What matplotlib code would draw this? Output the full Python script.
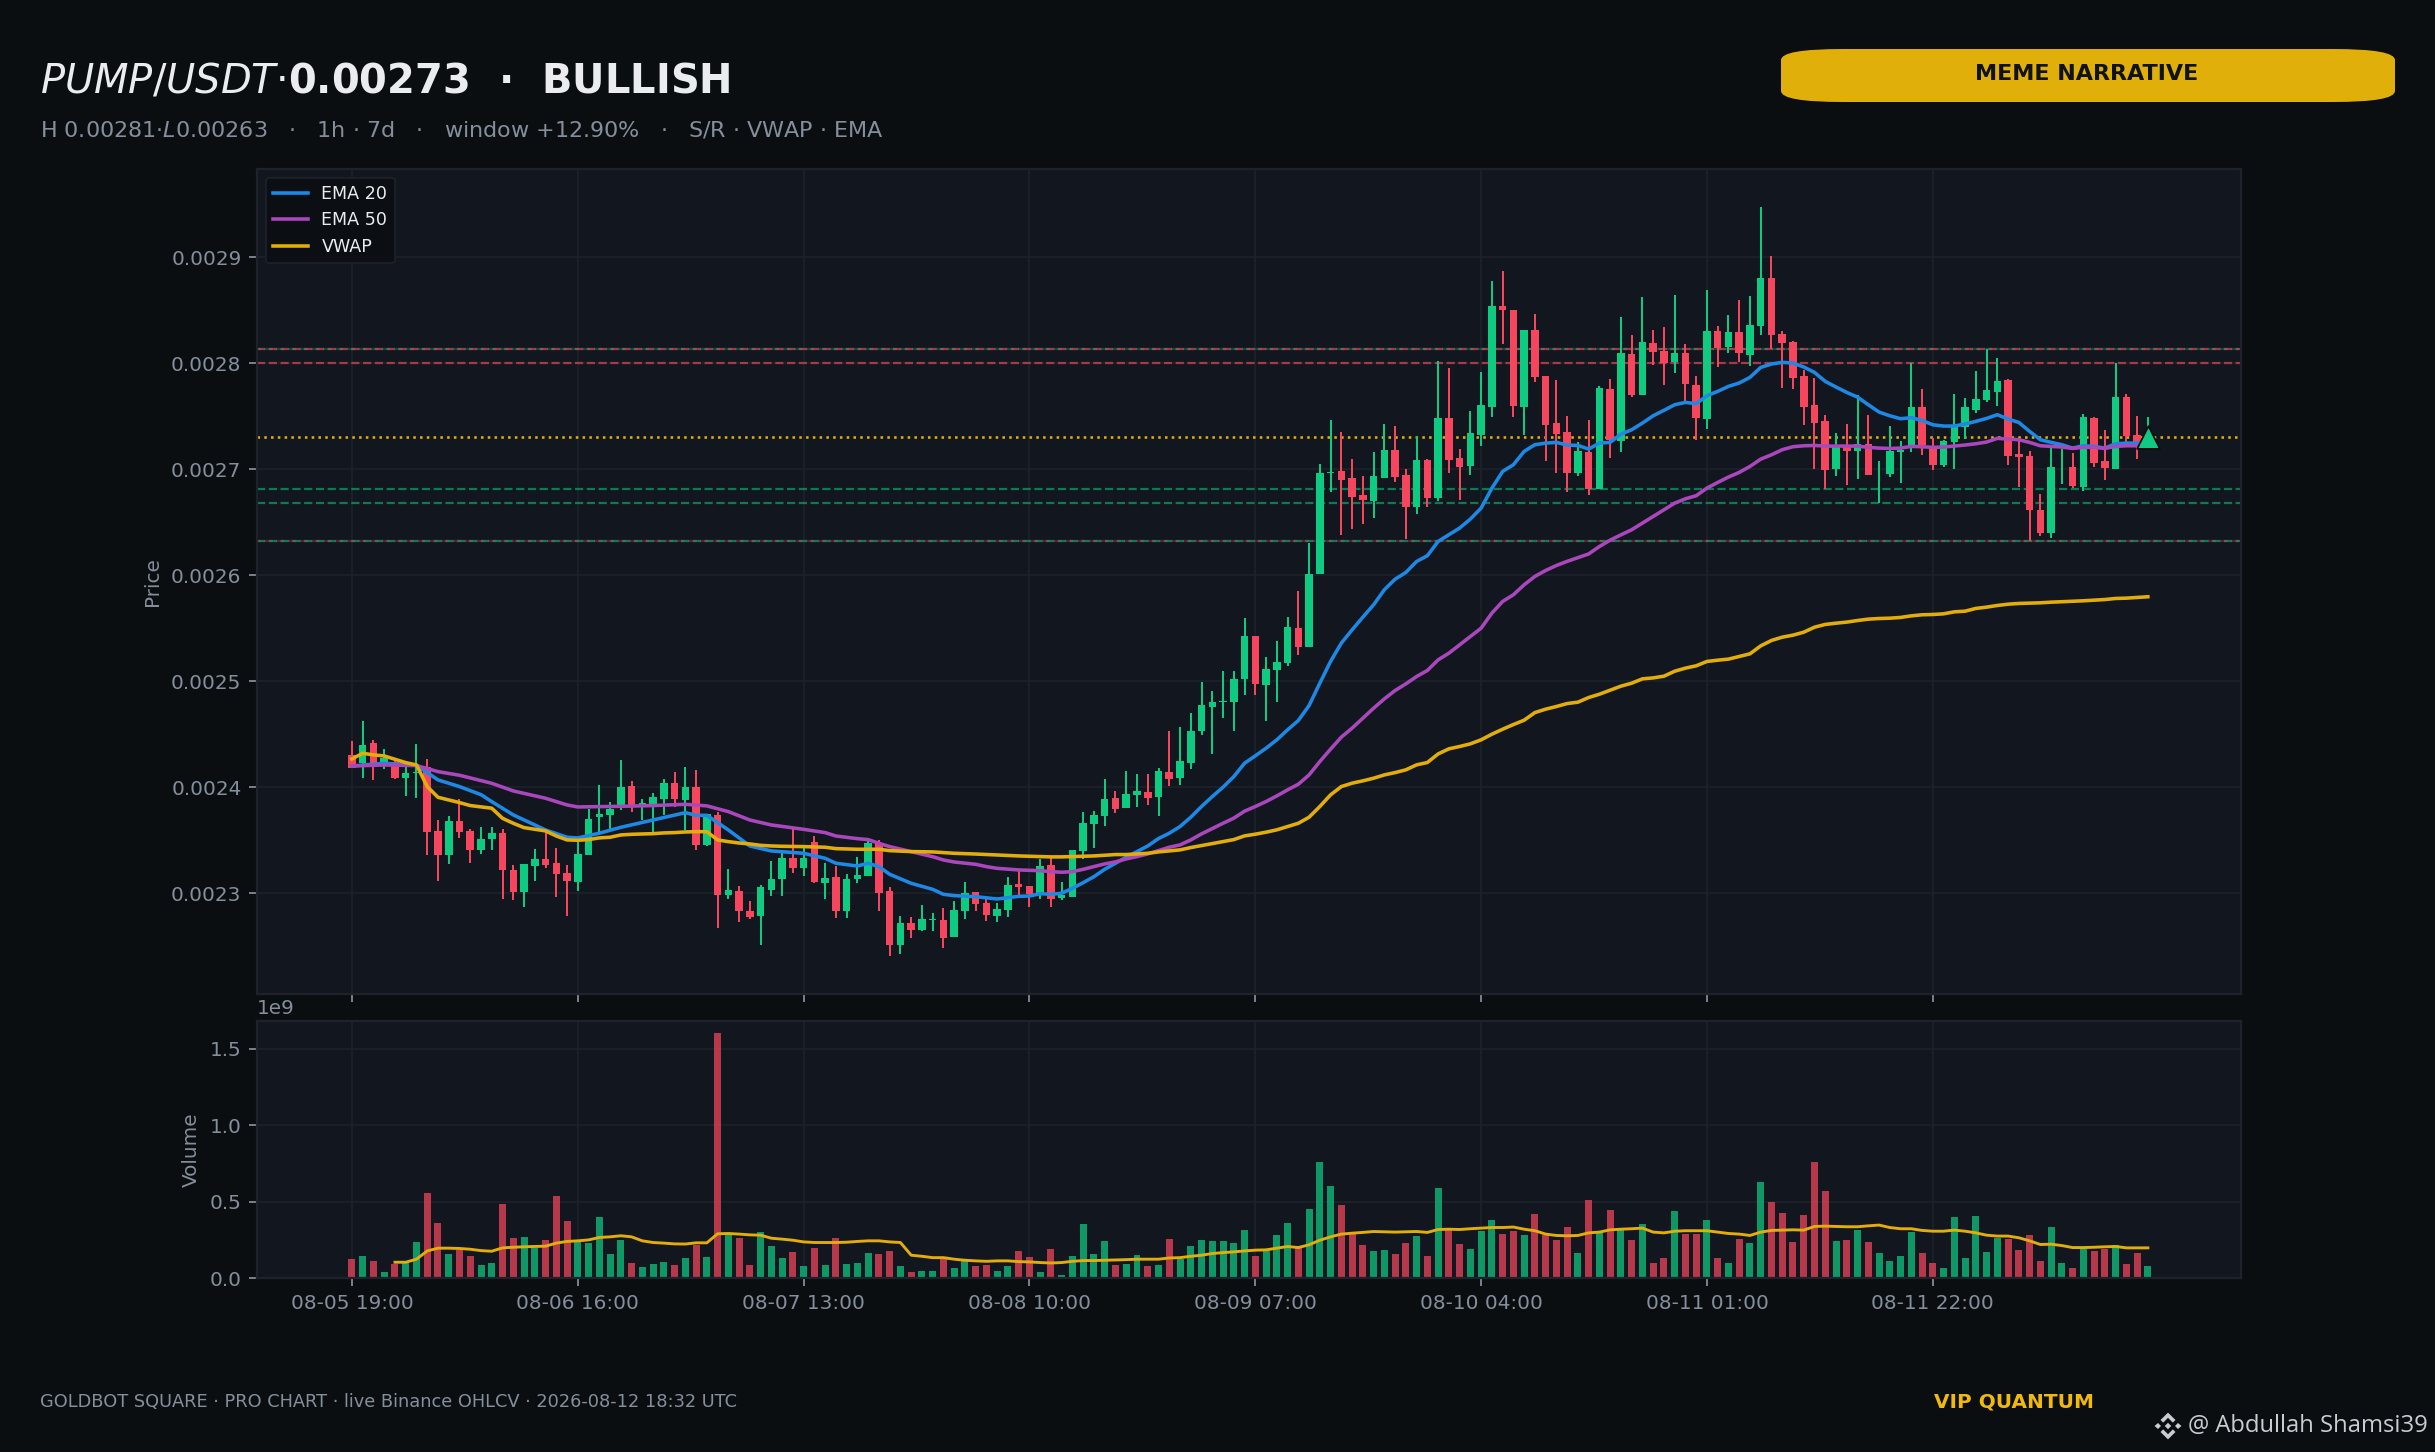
import matplotlib
matplotlib.use("Agg")
import matplotlib.pyplot as plt
from matplotlib.patches import Polygon, PathPatch
from matplotlib.path import Path
from matplotlib.ticker import ScalarFormatter
import numpy as np

W, H, DPI = 2435, 1452, 160

# ---- data (prices in millionths of USDT, volume in 1e9) ----
opens = [2430.5,2422.6,2441.8,2422.6,2424.2,2408.8,2413.5,2419.5,2358.8,2336.1,
2368.2,2358.8,2340.8,2351.2,2356.9,2322,2301.2,2325.7,2332.3,2328.6,
2319.1,2310.6,2336.1,2372,2373.9,2383,2401.2,2382.3,2383.3,2389,
2404.1,2388,2400.3,2345.6,2373.9,2298.4,2302.2,2283.3,2278.6,2303.1,
2313.5,2333.3,2323.9,2348.4,2309.7,2315.4,2283.3,2313.5,2316.3,2347.4,
2302.2,2251.2,2272,2265.4,2275.1,2274.8,2258.8,2283.3,2301.2,2290.8,
2278.6,2284.2,2308.8,2306.9,2299.3,2326.7,2295.6,2296.5,2340,2365.4,
2373,2389.9,2380.5,2392.8,2395.6,2390.9,2414.5,2408.8,2423,2453.2,
2475.8,2479.9,2480.5,2502.2,2542.8,2496.6,2510.7,2517.3,2550.3,2532.4,
2601.3,2695.9,2698.1,2691.5,2675.5,2669.8,2691.5,2717.9,2694.3,2664.1,
2708.5,2673,2748.5,2710.7,2703.2,2732.4,2758.8,2854.1,2850.3,2758.8,
2831.5,2788.1,2743.7,2735.2,2696.6,2716.4,2681.5,2775.8,2726.7,2808.8,
2770.1,2819.2,2811.7,2801.3,2809.8,2779.6,2747.5,2830.5,2815.4,2829.6,
2807.9,2835.2,2880.5,2827.7,2820.2,2788.1,2760.7,2745.6,2700.3,2721.4,
2717.3,2723.9,2695.9,2695.6,2716.4,2721.1,2758.8,2722,2704.1,2725.8,
2740,2756,2765.4,2773,2784.3,2714.5,2712.6,2661.6,2640,2702.5,
2702.2,2683.3,2748.5,2707.9,2700.3,2768.3,2732.4,2724.5]

closes = [2417.9,2439.9,2422.6,2428,2408.8,2413.5,2414.1,2357.8,2336.1,2368.2,
2357.8,2340.8,2351.2,2356.9,2322,2301.2,2327.6,2332.3,2326.7,2318.2,
2311.6,2337.1,2370.1,2374.8,2379.5,2400.3,2383,2385.2,2390.8,2404.1,
2389,2400.3,2345.6,2374.8,2298.4,2303.1,2283.3,2277.6,2305.9,2313.5,
2333.3,2323.9,2333.3,2310.6,2314.4,2283.3,2313.5,2317.2,2347.4,2300.3,
2251.2,2272,2265.4,2275.7,2275.7,2257.8,2284.2,2300.3,2289.9,2279.5,
2285.2,2307.8,2305.9,2299.3,2325.7,2294.6,2298.1,2340.9,2366.3,2373.9,
2389,2379.6,2393.7,2396.5,2389.9,2415.4,2407.9,2424.9,2453.2,2477.7,
2480.5,2481.1,2502.2,2542.8,2497.5,2511.6,2518.3,2551.3,2532.4,2601.3,
2696.2,2697.2,2689.6,2673.6,2670.8,2693.4,2717.9,2692.5,2664.1,2708.5,
2672.6,2748.5,2708.8,2702.2,2734.3,2760.7,2854.1,2850.3,2759.8,2831.5,
2787.1,2741.8,2733.4,2696.6,2717.3,2681.5,2776.8,2727.7,2809.8,2770.1,
2820.2,2810.7,2800.3,2809.8,2780.5,2748.5,2830.5,2814.5,2829.6,2809.8,
2836.2,2880.5,2826.8,2819.2,2786.2,2758.8,2743.7,2699.4,2722,2717.3,
2723.9,2694.7,2696.6,2717.3,2718.3,2758.8,2723,2704.1,2726.7,2741.8,
2758.8,2766.4,2774.9,2783.4,2712.6,2711.6,2661.6,2639.6,2702.2,2703.2,
2684.3,2749.4,2706,2701.3,2768.3,2731.5,2723,2730]

highs = [2443.7,2462.5,2444.6,2436.1,2425.8,2419.5,2440.8,2426.7,2369.1,2372.9,
2388.6,2360.6,2362.2,2362.2,2360.6,2326.7,2327.6,2341.8,2358.8,2342.7,
2326.7,2350.3,2379.5,2402.2,2385.8,2425.8,2405.9,2389,2394.3,2407.8,
2414.4,2419.1,2416.3,2374.8,2377,2322.9,2306.9,2292.7,2307.8,2330.5,
2337.7,2360.6,2342.7,2354,2328.6,2325.7,2318.2,2334.2,2349.3,2350.3,
2305.9,2278.6,2277.6,2289,2281.4,2286.1,2292.7,2310.6,2301.2,2295.2,
2290.8,2315.4,2321,2306.9,2332.3,2333.3,2310.7,2340.9,2376.7,2377.7,
2407.9,2396.5,2415.4,2412.6,2412.6,2418.2,2453.2,2456.9,2470.1,2499.4,
2490.9,2509.8,2509.8,2559.8,2542.8,2523,2538.1,2560.7,2585.2,2630.5,
2704.7,2746.2,2734.9,2709.4,2693.4,2716,2742.5,2740.6,2700,2730.2,
2709.4,2802.2,2795.6,2719.2,2755,2791.8,2877.7,2887.1,2850.3,2831.5,
2846.6,2788.1,2784.3,2750.3,2725.8,2746.6,2778.6,2785.2,2843.7,2826.8,
2862.6,2831.5,2834.3,2864.5,2818.3,2788.1,2869.2,2835.2,2845.6,2859.8,
2863.6,2947.5,2901.3,2830.5,2821.1,2793.7,2786.2,2751.3,2734.3,2742.8,
2770.1,2751.3,2707.9,2740.9,2726.7,2800.3,2775.8,2729.6,2727.7,2771.1,
2767.3,2792.8,2813.5,2805.1,2785.2,2727.7,2717.3,2676.7,2721.4,2719.2,
2715.4,2752.2,2749.4,2737.1,2800.3,2771.1,2750.3,2749.4]

lows = [2417.9,2409.1,2406.9,2417.6,2407.8,2391.8,2390.2,2336.1,2311.6,2327.6,
2352.2,2328.6,2337.1,2340.8,2294.6,2293.7,2287.1,2311.6,2323.9,2296.5,
2278.6,2302.2,2336.1,2356.6,2359.7,2378.6,2376.7,2369.1,2356.9,2373.9,
2381.7,2359.7,2340.8,2344.6,2267.2,2294.6,2272.9,2275.7,2251.2,2297.4,
2297.4,2319.1,2316.3,2309.7,2294.6,2276.7,2276.7,2309.7,2316.3,2283.3,
2240.8,2242.7,2257.8,2264.4,2264.4,2248.4,2258.8,2275.7,2283.3,2273.9,
2272.9,2277.6,2298.4,2287.1,2294.6,2287.1,2293.7,2296.5,2332.4,2342.8,
2363.5,2375.8,2380.5,2381.4,2383.3,2373,2401.3,2402.2,2417.3,2449.4,
2431.4,2465.4,2453.2,2487.1,2487.1,2462.6,2480.5,2514.5,2524.9,2532.4,
2601.3,2678.6,2637.7,2643.4,2648.1,2653.8,2691.5,2687.7,2634,2657.5,
2664.1,2670,2696.6,2671.1,2694.7,2722,2749.4,2818.3,2749.4,2732.4,
2782.4,2707.9,2696.6,2678.6,2693.7,2675.8,2681.5,2710.7,2716.4,2768.3,
2770.1,2798.5,2779.6,2790.9,2763.5,2727.7,2738,2796.6,2809.8,2801.3,
2797.5,2826.8,2813.5,2776.8,2775.8,2741.8,2700.3,2681.5,2693.7,2685.2,
2690.9,2694.7,2668.2,2692.8,2687.1,2716.4,2713.5,2699.4,2702.2,2700.3,
2728.6,2753.2,2763.5,2759.8,2704.1,2683.3,2632.5,2637.1,2635.2,2686.2,
2682.4,2679.6,2702.2,2690,2700.3,2725.8,2709.8,2722]

volumes = [.124,.145,.111,.039,.092,.098,.237,.558,.361,.158,
.184,.145,.085,.098,.486,.263,.269,.197,.25,.538,
.374,.243,.23,.4,.158,.25,.098,.072,.092,.105,
.085,.131,.216,.138,1.6,.296,.259,.086,.298,.212,
.132,.173,.08,.199,.086,.263,.092,.098,.164,.158,
.177,.079,.039,.046,.046,.125,.066,.112,.079,.085,
.046,.079,.177,.138,.039,.19,.02,.144,.354,.158,
.243,.085,.092,.151,.079,.085,.256,.125,.21,
.249,.243,.243,.23,.315,.144,.177,.282,.361,.199,
.453,.761,.604,.479,.287,.217,.177,.184,.158,.23,
.276,.144,.591,.315,.223,.19,.309,.381,.289,.309,
.282,.42,.282,.249,.335,.164,.512,.295,.446,.315,
.249,.354,.098,.131,.44,.289,.289,.381,.131,.098,
.256,.23,.63,.499,.427,.236,.414,.761,.571,.243,
.249,.315,.236,.164,.112,.144,.302,.164,.098,.066,
.4,.131,.407,.171,.263,.256,.184,.282,.112,.335,
.098,.066,.19,.177,.19,.217,.092,.164,.079]

ema20_x = [0,3,6,8,10,12,13,15,18,20,21,23,25,28,31,32,33,35,37,39,42,44,45,47,48,49,50,52,54,55,56,58,60,62,63,64,65]+list(range(66,168))
ema20 = [2420,2422.6,2420.7,2406.9,2400.6,2393,2386.4,2373.9,2359.7,2352.8,2352.2,2356.6,2362.2,2369.1,2376,2373.5,2373.5,2359.7,2344.6,2339.9,2337.7,2333,2328.3,2325.7,2328.3,2325.1,2317.9,2309.4,2303.7,2299,2297.8,2296.8,2294.6,2297.1,2297.4,2299.6,2299,
2300,2304.7,2310,2315.7,2322.6,2328.3,2334,2339.3,2344.6,2351.6,2356.6,2362.9,2371.7,2381.8,2391.2,2400,2410,2422.6,2429.6,2436.8,2444.7,2454.1,2462.9,2477,2498.1,2518.6,2535.9,2548.4,2560.4,2572,2586.2,2596.2,2602.5,2612.9,2618.3,2631.8,2638.1,2644.4,2652.9,2663.2,
2682,2697.8,2704.1,2716.7,2723,2724.5,2725.2,2722.7,2722.3,2718.9,2724.5,2725.2,2733,2737.1,2743.4,2750.3,2755.4,2760.7,2762.9,2761.7,2769.2,2773.3,2778,2781.2,2786.5,2795.9,2799.1,
2800.7,2800,2796.3,2791.2,2782.7,2777.4,2772.3,2767.9,2760.7,2753.8,2750.3,2747.5,2748.5,2745.9,2741.8,2740.6,2740.6,2742.5,2745,2747.8,2751.3,2747.2,2744,2735.6,2727.7,2725.2,2723,2719.8,2722,2721.4,2719.8,2723.9,2724.5,2724.5,2725]

ema50_x = [0,3,6,8,10,12,13,15,18,20,21,25,28,31,33,35,37,39,42,44,45,47,48,49,50,52,54,55,56,58,59,60,62,64,65]+list(range(66,168))
ema50 = [2420,2421,2420.4,2414.7,2411.3,2406.2,2403.7,2396.5,2389.6,2383.3,2381.4,2382,2382.7,2383.9,2382.4,2377,2369.1,2364.4,2360.3,2357.2,2354,2351.5,2350.6,2347.1,2344,2339.3,2334.5,2331.4,2329.5,2327.3,2325.1,2323.5,2322,2321.3,2320.4,
2319.8,2320.4,2322.6,2325.1,2327.7,2329.6,2332.4,2334.6,2337.1,2340.2,2343.4,2345.6,2350.3,2356,2361,2366,2370.8,2377.4,2381.8,2386.5,2391.8,2397.5,2402.8,2411.6,2424.2,2435.9,2447.2,2455.7,2465.1,2474.5,2483.3,2491.2,2497.5,2504.4,2510.1,2520.1,2526.4,2534.3,2542.2,2550,2564.2,2575.2,2581.5,2590.9,2598.8,2604.4,2609.1,
2613,2616.5,2620,2627,2633,2638,2642.8,2649.1,2655.4,2661.7,2667.9,2672,2674.9,2682.1,2687.4,2692.5,2696.9,2702.5,2709.4,2713.5,
2718.3,2721.1,2722,2722.3,2721.7,2721.7,2721.7,2721.7,2720.5,2719.8,2719.5,2719.8,2721.4,2721.1,2720.5,2720.8,2721.7,2722.7,2723.9,2725.5,2729,2728.3,2727.7,2725.2,2722,2721.4,2720.8,2719.5,2720.5,2720.5,2719.5,2721.4,2722,2722,2722]

vwap_x = list(range(0,41))+[42,44,45,47,49,50,52,54,56,58,60,62,65]+list(range(66,168))
vwap = [2426.7,2432,2430.5,2429.5,2426.4,2423.2,2421,2400.6,2390.5,2388,2385.5,2382.7,2381.4,2380.2,2370.7,2366,2361.9,2360.3,2358.8,2354,2350.3,2350,2350.6,2352.2,2352.8,2355,2355.6,2355.9,2356.2,2356.9,2357.2,2357.8,2358.1,2358.1,2350.3,2348.7,2347.4,2346.5,2345.2,2344.6,2344.3,
2344,2343.4,2342.1,2341.5,2341.5,2340.2,2339.3,2339,2337.7,2337,2336.1,2335.2,2334.3,
2334.3,2334.6,2334.9,2335.2,2335.8,2336.5,2336.5,2337.1,2337.7,2339,2340,2340.9,2343.1,2345,2346.9,2348.7,2350.6,2354.1,2355.7,2357.6,2359.8,2362.9,2366,2371.7,2381.8,2392.8,2400.6,2403.8,2406,2408.5,2411.6,2413.8,2416.4,2421.1,2423.3,2431.4,2436.2,2438.4,2440.9,2444.7,2450,
2454.7,2459.1,2463.2,2470.4,2473.6,2476.1,2478.9,2480.2,2484.6,2487.7,2491.5,2495.3,2498.1,2502.2,2503.1,2504.7,2509.4,2512.3,2514.5,2518.6,2519.8,2520.8,2523.3,2525.8,2533.3,2538.4,2541.5,2543.4,2546.2,2550.9,2553.5,2554.7,2555.7,2557.2,2558.5,2559.1,2559.4,2560.1,2561.6,2562.6,2562.9,2563.5,2565.4,2566,2568.6,2569.8,2571.4,2572.6,2573.3,2573.6,2573.9,2574.5,2574.9,2575.2,2575.8,2576.4,2577,2578,2578.3,2578.9,2579.6]

vol_ma_x = list(range(4,168))
vol_ma = [.103,.103,.123,.177,.195,.195,.193,.188,.179,.175,.197,.201,.204,.206,.208,.228,.239,.243,.249,.265,.269,.276,.269,.243,.232,.228,.223,.222,.23,.23,.289,.291,.287,.282,.28,.26,.254,.247,.236,.232,.232,.232,.234,.239,.243,.243,.236,.232,.149,.142,.133,.133,.123,.116,.112,.109,.112,.112,.107,.105,.101,.098,.101,.109,.114,.114,.116,.118,.12,.123,.123,.123,.131,.133,.142,
.149,.16,.166,.171,.177,.182,.184,.195,.206,.199,.217,.247,.269,.287,.293,.298,.304,.302,.3,.302,.304,.298,.317,.319,.317,.322,.326,.33,.33,.333,.319,.309,.287,.278,.276,.278,.295,.3,.315,.319,.322,.326,.3,.295,.306,.309,.309,.309,.3,.291,.287,.278,.3,.311,.313,.315,.313,.337,.339,.337,.335,.335,.341,.346,.33,.322,.322,.311,.306,.306,.313,.306,.295,.28,.274,.274,.263,.243,.219,.221,.212,.199,.199,.201,.204,.206,.197,.197,.197]

resistance = [2800.3, 2813.5]
support = [2681.5, 2668.4, 2632.5]
pivot = 2730.0
last_price = 2730.0
tick_pos = [0, 21, 42, 63, 84, 105, 126, 147]
tick_labels = ["08-05 19:00","08-06 16:00","08-07 13:00","08-08 10:00","08-09 07:00","08-10 04:00","08-11 01:00","08-11 22:00"]
price_ticks = [2300, 2400, 2500, 2600, 2700, 2800, 2900]
vol_ticks = [0, 0.5, 1.0, 1.5]

# ---- styles ----
BG = "#0b0e11"; PANEL = "#12161e"; GRID = "#1e222a"; TXT = "#848e9c"
UP = "#0ecb81"; DOWN = "#f6465d"; GOLD = "#e3ae0c"
BLUE = "#1e88e5"; PURPLE = "#ab47bc"
SC = 1e-6

plt.rcParams["font.family"] = ["DejaVu Sans"]
fig = plt.figure(figsize=(W/DPI, H/DPI), dpi=DPI, facecolor=BG)

def ax_rect(l, t, r, b):
    return [l/W, 1-b/H, (r-l)/W, (b-t)/H]

ax = fig.add_axes(ax_rect(257, 169, 2241, 994), facecolor=PANEL)
vx = fig.add_axes(ax_rect(257, 1021, 2241, 1278), facecolor=PANEL, sharex=ax)

x = np.arange(168)
o, c, hi, lo = [np.array(a)*SC for a in (opens, closes, highs, lows)]
colors = [UP if cc >= oo else DOWN for oo, cc in zip(o, c)]

for a in (ax, vx):
    a.grid(True, color=GRID, lw=0.7, zorder=0)
    a.set_axisbelow(True)
    for s in a.spines.values():
        s.set_color(GRID); s.set_linewidth(1.0)
    a.tick_params(colors=TXT, labelsize=9, length=3.5, width=0.8)

ax.vlines(x, lo, hi, colors=colors, lw=0.9, zorder=2)
ax.bar(x, np.abs(c-o), bottom=np.minimum(o, c), width=0.7, color=colors, lw=0, zorder=3)

for v in resistance:
    ax.axhline(v*SC, color=DOWN, lw=1.0, ls="--", alpha=0.65, zorder=1.5)
for v in support:
    ax.axhline(v*SC, color=UP, lw=1.0, ls="--", alpha=0.55, zorder=1.5)
ax.axhline(resistance[1]*SC, color=UP, lw=1.0, ls=(2, (3.7, 1.6)), alpha=0.3, zorder=1.5)
ax.axhline(support[2]*SC, color=DOWN, lw=1.0, ls=(2, (3.7, 1.6)), alpha=0.3, zorder=1.5)
ax.axhline(pivot*SC, color=GOLD, lw=1.15, ls=":", zorder=1.6)

ax.plot(ema20_x, np.array(ema20)*SC, color=BLUE, lw=1.6, label="EMA 20", zorder=4)
ax.plot(ema50_x, np.array(ema50)*SC, color=PURPLE, lw=1.6, label="EMA 50", zorder=4)
ax.plot(vwap_x, np.array(vwap)*SC, color=GOLD, lw=1.6, label="VWAP", zorder=4)
ax.scatter([167], [last_price*SC], marker="^", s=105, color=UP, edgecolors=BG, linewidths=0.8, zorder=6)

ax.set_xlim(-8.83, 175.66)
ax.set_ylim(0.002205, 0.002983)
ax.set_yticks(np.array(price_ticks)*SC)
ax.set_yticklabels([f"{p*SC:.4f}" for p in price_ticks])
ax.set_ylabel("Price", color=TXT, fontsize=9, labelpad=4)
ax.tick_params(labelbottom=False)

leg = ax.legend(loc="upper left", fontsize=7.9, facecolor=BG, edgecolor=GRID, framealpha=0.9,
                labelcolor="#eaecef", borderpad=0.42, labelspacing=0.47, handlelength=2.0,
                handletextpad=0.75)
leg.get_frame().set_linewidth(0.8)
leg.set_zorder(10)

vols = np.array(volumes)*1e9
vx.bar(x, vols, width=0.65, color=colors, alpha=0.72, lw=0, zorder=2)
vx.plot(vol_ma_x, np.array(vol_ma)*1e9, color=GOLD, lw=1.3, zorder=3)
vx.set_ylim(0, 1.68e9)
vx.set_yticks(np.array(vol_ticks)*1e9)
vx.yaxis.set_major_formatter(ScalarFormatter(useMathText=False))
vx.yaxis.get_offset_text().set_color(TXT)
vx.yaxis.get_offset_text().set_fontsize(9)
vx.set_xticks(tick_pos)
vx.set_xticklabels(tick_labels)
vx.set_ylabel("Volume", color=TXT, fontsize=9, labelpad=4)

# ---- header ----
def fx(px): return px/W
def fy(py): return 1-py/H

fig.text(fx(40), fy(93), r"$PUMP/USDT·$0.00273  ·  BULLISH", color="#eaecef",
         fontsize=18, fontweight="bold", ha="left", va="baseline")
fig.text(fx(40), fy(136), r"H $0.00281·L$0.00263   ·   1h · 7d   ·   window +12.90%   ·   S/R · VWAP · EMA",
         color=TXT, fontsize=10, ha="left", va="baseline")

bl, br, bt, bb = fx(1781), fx(2395), fy(49), fy(102)
rx, ry = 62/W, 11/H
verts = [(bl+rx, bb), (br-rx, bb), (br, bb), (br, bb+ry), (br, bt-ry), (br, bt), (br-rx, bt),
         (bl+rx, bt), (bl, bt), (bl, bt-ry), (bl, bb+ry), (bl, bb), (bl+rx, bb), (bl+rx, bb)]
codes = [Path.MOVETO, Path.LINETO, Path.CURVE3, Path.CURVE3, Path.LINETO, Path.CURVE3, Path.CURVE3,
         Path.LINETO, Path.CURVE3, Path.CURVE3, Path.LINETO, Path.CURVE3, Path.CURVE3, Path.CLOSEPOLY]
fig.add_artist(PathPatch(Path(verts, codes), transform=fig.transFigure, fc="#e1af0a", ec="none"))
fig.text(fx(2087), fy(74), "MEME NARRATIVE", color="#0f1216", fontsize=10, fontweight="bold",
         ha="center", va="center")

# ---- footer ----
fig.text(fx(40), fy(1402), "GOLDBOT SQUARE · PRO CHART · live Binance OHLCV · 2026-08-12 18:32 UTC",
         color=TXT, fontsize=8, ha="left", va="center")
fig.text(fx(2014), fy(1402), "VIP QUANTUM", color="#f0b90b", fontsize=9, fontweight="bold",
         ha="center", va="center")
fig.text(fx(2188), fy(1426), "@ Abdullah Shamsi39", color="#c9ccd1", fontsize=10.7,
         family="Open Sans", ha="left", va="center")

LOGO = "#c9ccd1"
cx, cy = 2168, 1426
def logo_poly(pts):
    fig.add_artist(Polygon([(fx(cx+a), fy(cy+b)) for a, b in pts], closed=True,
                           transform=fig.transFigure, fc=LOGO, ec="none"))
logo_poly([(0,-3.2),(3.2,0),(0,3.2),(-3.2,0)])
logo_poly([(-10,-3),(-7,0),(-10,3),(-13.4,0)])
logo_poly([(10,-3),(13.4,0),(10,3),(7,0)])
logo_poly([(0,-13.4),(7.5,-6),(4.8,-3.4),(0,-8.2),(-4.8,-3.4),(-7.5,-6)])
logo_poly([(0,13.4),(7.5,6),(4.8,3.4),(0,8.2),(-4.8,3.4),(-7.5,6)])

fig.savefig("out.png", dpi=DPI, facecolor=BG)
